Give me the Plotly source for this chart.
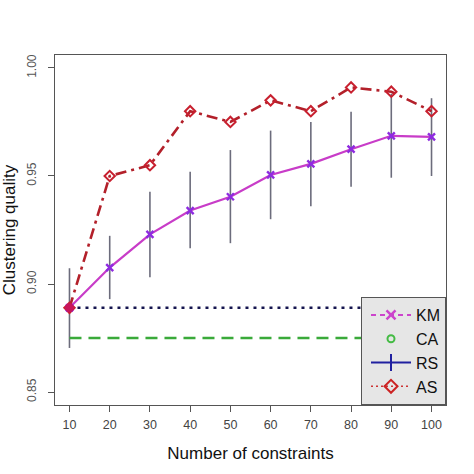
import plotly.graph_objects as go

# number of constraints
constraints = [10, 20, 30, 40, 50, 60, 70, 80, 90, 100]

# series
km_quality = [0.889, 0.9076, 0.923, 0.934, 0.9404, 0.9505, 0.9556, 0.9624, 0.9686, 0.9681]
as_quality = [0.889, 0.950, 0.955, 0.980, 0.975, 0.985, 0.980, 0.991, 0.989, 0.980]
rs_low = [0.8704, 0.893, 0.9031, 0.9166, 0.9189, 0.930, 0.936, 0.945, 0.9492, 0.950]
rs_high = [0.9073, 0.9223, 0.9427, 0.952, 0.962, 0.971, 0.975, 0.9797, 0.988, 0.986]
rs_baseline = 0.889
ca_baseline = 0.875

y_ticks = [0.85, 0.90, 0.95, 1.00]
legend_names = ['KM', 'CA', 'RS', 'AS']

font = 'Liberation Sans, Arial, sans-serif'

fig = go.Figure()

# RS vertical spread bars
bar_x, bar_y = [], []
for x, lo, hi in zip(constraints, rs_low, rs_high):
    bar_x += [x, x, None]
    bar_y += [lo, hi, None]
fig.add_trace(go.Scatter(
    x=bar_x, y=bar_y, mode='lines', line=dict(color='#6c6c7c', width=1.6),
    showlegend=False, hoverinfo='skip',
))

# horizontal baselines
fig.add_trace(go.Scatter(
    x=[constraints[0], constraints[-1]], y=[rs_baseline, rs_baseline], mode='lines',
    line=dict(color='#15154f', width=2.6, dash='3px,5px'), showlegend=False,
))
fig.add_trace(go.Scatter(
    x=[constraints[0], constraints[-1]], y=[ca_baseline, ca_baseline], mode='lines',
    line=dict(color='#3aaa3a', width=2.4, dash='12px,7px'), showlegend=False,
))

# AS curve
fig.add_trace(go.Scatter(
    x=constraints, y=as_quality, mode='lines+markers',
    line=dict(color='#b3202a', width=2.6, dash='11px,5px,3px,5px'),
    marker=dict(symbol='diamond-open', size=8, color='#c8202f', line=dict(width=2)),
    showlegend=False,
))

# KM curve
fig.add_trace(go.Scatter(
    x=constraints, y=km_quality, mode='lines+markers',
    line=dict(color='#c83cc8', width=2.2),
    marker=dict(symbol='x-thin-open', size=7, color='#8e2be0', line=dict(width=2.4, color='#8e2be0')),
    showlegend=False,
))

# shared starting point
fig.add_trace(go.Scatter(
    x=[constraints[0]], y=[km_quality[0]], mode='markers',
    marker=dict(symbol='circle', size=9, color='#c8155a'), showlegend=False,
))

# legend entries
legend_styles = [
    dict(mode='lines+markers', line=dict(color='#cc44cc', width=2, dash='5px,4px'),
         marker=dict(symbol='x-thin-open', size=9, line=dict(width=2.5, color='#cc33cc'))),
    dict(mode='markers',
         marker=dict(symbol='circle-open', size=7, color='#44bb44', line=dict(width=2))),
    dict(mode='lines+markers', line=dict(color='#2020a0', width=2),
         marker=dict(symbol='line-ns-open', size=12, line=dict(width=2, color='#2020a0'))),
    dict(mode='lines+markers', line=dict(color='#cc3333', width=1.5, dash='2px,3px'),
         marker=dict(symbol='diamond-open', size=10, color='#cc2222', line=dict(width=2))),
]
for name, style in zip(legend_names, legend_styles):
    fig.add_trace(go.Scatter(x=[None], y=[None], name=name, showlegend=True, **style))

fig.update_layout(
    width=474, height=474,
    margin=dict(l=55, r=28, t=55, b=69),
    plot_bgcolor='white', paper_bgcolor='white',
    font=dict(family=font, color='#222222'),
    legend=dict(
        x=1, y=0, xanchor='right', yanchor='bottom',
        bgcolor='#e6e6e6', bordercolor='#555555', borderwidth=1,
        font=dict(size=16, color='#111111'), itemwidth=40,
        tracegroupgap=0, indentation=4,
    ),
)

fig.update_xaxes(
    range=[6.4, 103.6], tickvals=constraints, ticks='outside', ticklen=6,
    tickcolor='#555555', tickfont=dict(size=12.5, color='#444444'),
    showline=True, mirror=True, linecolor='#555555', linewidth=1, showgrid=False, zeroline=False,
    title=dict(text='Number of constraints', font=dict(size=17, color='#111111'), standoff=16),
    automargin=False, ticklabelstandoff=2,
)
fig.update_yaxes(
    range=[0.844, 1.006], tickvals=y_ticks, ticktext=[f'{v:.2f}' for v in y_ticks],
    ticks='outside', ticklen=6, tickangle=-90, ticklabelstandoff=7,
    tickcolor='#555555', tickfont=dict(size=12, color='#555555'),
    showline=True, mirror=True, linecolor='#555555', linewidth=1, showgrid=False, zeroline=False,
    title=dict(text='Clustering quality', font=dict(size=17, color='#111111'), standoff=7),
    automargin=False,
)

# drop the page's default body margin so the figure fills the window
fig.write_html('out.html', config={'displayModeBar': False},
               post_script="document.body.style.margin='0';")
